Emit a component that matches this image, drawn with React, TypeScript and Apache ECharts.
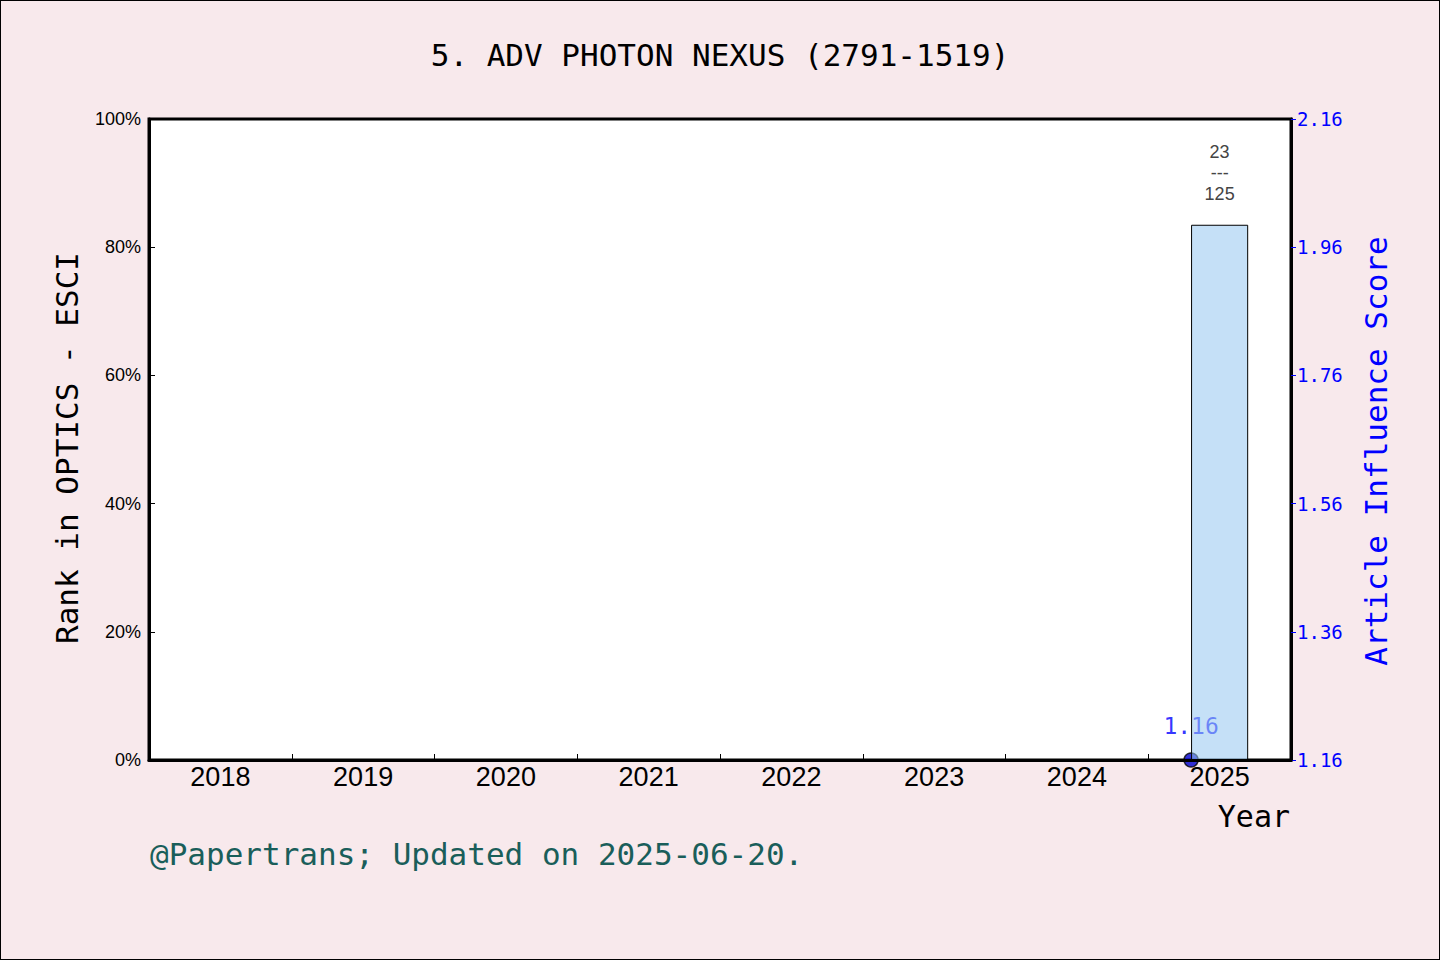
import { useEffect, useRef } from "react";
import * as echarts from "echarts";

const years = ["2018", "2019", "2020", "2021", "2022", "2023", "2024", "2025"];
// rank share (%) per year, only 2025 has data
const rankPct = [null, null, null, null, null, null, null, 83.5];
const rankLabels = ["", "", "", "", "", "", "", "23\n---\n125"];
// article influence score per year
const aisValues = [null, null, null, null, null, null, null, 1.16];
const pointOffset = -0.2;

const aisTicks = [1.16, 1.36, 1.56, 1.76, 1.96, 2.16];

const MONO = "'DejaVu Sans Mono', monospace";
const SANS = "'Liberation Sans', Arial, sans-serif";

export default function App() {
  const chartRef = useRef<HTMLDivElement>(null);

  useEffect(() => {
    if (!chartRef.current) return;
    const chart = echarts.init(chartRef.current, null, { renderer: "svg" });

    const barData = rankPct.map((v, i) => ({
      value: v,
      label: { formatter: rankLabels[i] },
    }));
    const pointData = aisValues
      .map((v, i) => (v == null ? null : [i + pointOffset, v]))
      .filter((d) => d !== null);

    chart.setOption({
      animation: false,
      backgroundColor: "#f8e9ec",
      title: {
        text: "5. ADV PHOTON NEXUS (2791-1519)",
        left: "center",
        top: 33,
        textStyle: {
          fontFamily: MONO,
          fontSize: 31,
          fontWeight: "normal",
          color: "#000",
        },
      },
      grid: {
        left: 148,
        right: 148,
        top: 118,
        bottom: 199,
        show: true,
        backgroundColor: "#ffffff",
        borderColor: "#000",
        borderWidth: 3,
      },
      xAxis: [
        {
          type: "category",
          data: years,
          boundaryGap: true,
          z: 5,
          axisLine: { onZero: false, lineStyle: { color: "#000", width: 3 } },
          axisTick: {
            show: true,
            interval: 0,
            inside: true,
            length: 6,
            lineStyle: { color: "#000", width: 1 },
          },
          axisLabel: {
            color: "#000",
            fontFamily: SANS,
            fontSize: 27,
            margin: 3,
          },
        },
        {
          type: "value",
          min: -0.5,
          max: years.length - 0.5,
          show: false,
        },
      ],
      yAxis: [
        {
          type: "value",
          min: 0,
          max: 100,
          interval: 20,
          splitLine: { show: false },
          axisLine: { show: true, onZero: false, lineStyle: { color: "#000", width: 3 } },
          axisTick: { show: true, inside: true, length: 6, lineStyle: { color: "#000" } },
          axisLabel: {
            color: "#000",
            fontFamily: SANS,
            fontSize: 18,
            margin: 8,
            formatter: "{value}%",
          },
        },
        {
          type: "value",
          min: aisTicks[0],
          max: aisTicks[aisTicks.length - 1],
          interval: 0.2,
          position: "right",
          splitLine: { show: false },
          axisLine: { show: true, onZero: false, lineStyle: { color: "#000", width: 3 } },
          axisTick: { show: true, length: 5, lineStyle: { color: "#0000ff" } },
          axisLabel: {
            color: "#0000ff",
            fontFamily: MONO,
            fontSize: 19,
            margin: 6,
            formatter: (v: number) => v.toFixed(2),
          },
        },
      ],
      series: [
        {
          type: "scatter",
          xAxisIndex: 1,
          yAxisIndex: 1,
          z: 1,
          data: pointData,
          symbol: "circle",
          symbolSize: 14,
          itemStyle: { color: "#0000cc", borderColor: "#000", borderWidth: 1.5 },
          label: {
            show: true,
            position: "top",
            distance: 15,
            color: "#0000ff",
            fontFamily: MONO,
            fontSize: 23,
            formatter: (p: any) => p.value[1].toFixed(2),
          },
        },
        {
          type: "bar",
          xAxisIndex: 0,
          yAxisIndex: 0,
          z: 3,
          data: barData,
          barWidth: "40%",
          itemStyle: {
            color: "rgba(150, 198, 240, 0.55)",
            borderColor: "#000",
            borderWidth: 1,
          },
          label: {
            show: true,
            position: "top",
            distance: 20,
            color: "#444",
            fontFamily: SANS,
            fontSize: 18,
            lineHeight: 21,
          },
        },
      ],
      graphic: [
        {
          type: "text",
          x: 66,
          y: 447,
          rotation: Math.PI / 2,
          style: {
            text: "Rank in OPTICS - ESCI",
            fontFamily: MONO,
            fontSize: 31,
            fill: "#000",
            align: "center",
            verticalAlign: "middle",
          },
        },
        {
          type: "text",
          x: 1375,
          y: 450,
          rotation: Math.PI / 2,
          style: {
            text: "Article Influence Score",
            fontFamily: MONO,
            fontSize: 31,
            fill: "#0000ff",
            align: "center",
            verticalAlign: "middle",
          },
        },
        {
          type: "text",
          right: 149,
          top: 800,
          style: {
            text: "Year",
            fontFamily: MONO,
            fontSize: 30,
            fill: "#000",
          },
        },
        {
          type: "text",
          left: 149,
          top: 837,
          style: {
            text: "@Papertrans; Updated on 2025-06-20.",
            fontFamily: MONO,
            fontSize: 31,
            fill: "#1a5e5a",
          },
        },
      ],
    });

    return () => chart.dispose();
  }, []);

  return (
    <div
      style={{
        position: "absolute",
        left: 0,
        top: 0,
        width: 1440,
        height: 960,
        boxSizing: "border-box",
        border: "1px solid #000",
      }}
    >
      <div ref={chartRef} style={{ width: 1438, height: 958 }} />
    </div>
  );
}
